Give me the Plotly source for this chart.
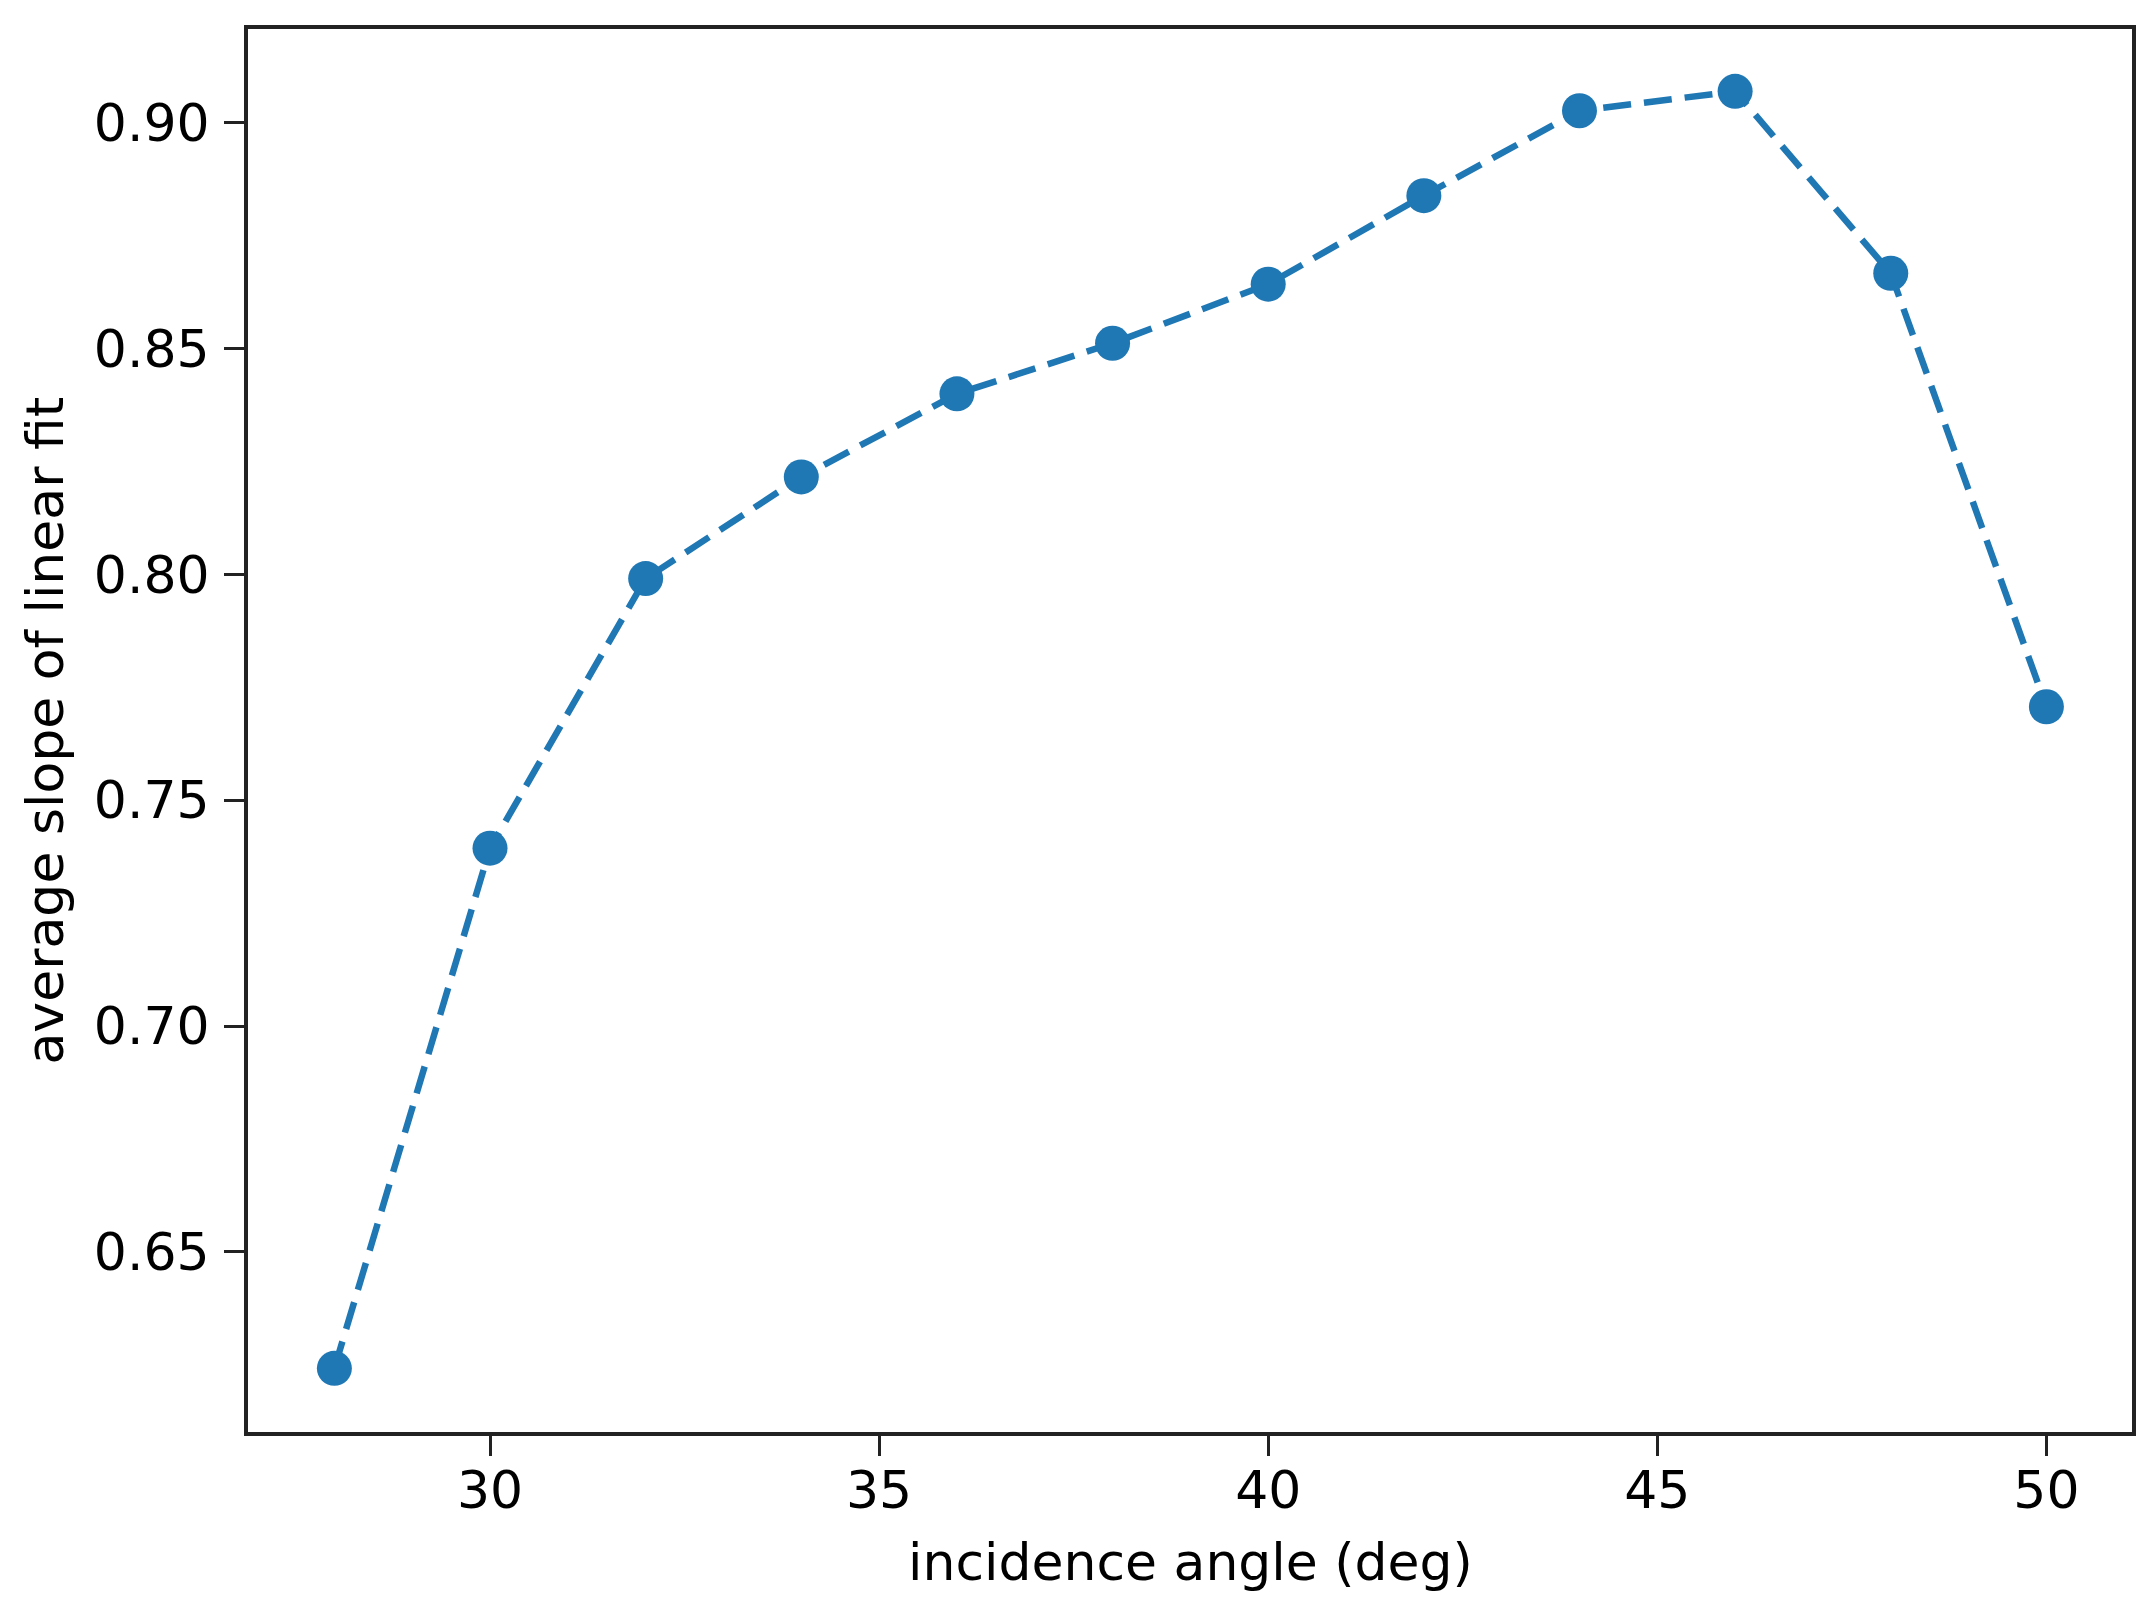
import plotly.graph_objects as go

angles = [28, 30, 32, 34, 36, 38, 40, 42, 44, 46, 48, 50]
slopes = [0.6242, 0.7394, 0.7991, 0.8216, 0.8400, 0.8512, 0.8643, 0.8839, 0.9027, 0.9070, 0.8667, 0.7707]

x_ticks = [30, 35, 40, 45, 50]
y_ticks = [0.65, 0.70, 0.75, 0.80, 0.85, 0.90]
y_tick_labels = ["0.65", "0.70", "0.75", "0.80", "0.85", "0.90"]

# page has 8px default body margin -> figure drawn 8px in from the top-left
W, H = 2143, 1597
ML, MR, MT, MB = 240, 19, 21, 173
PW, PH = W - ML - MR, H - MT - MB

FONT = "DejaVu Sans"
FS = 52
BLUE = "#1f77b4"

fig = go.Figure()
fig.add_trace(go.Scatter(
    x=angles, y=slopes, mode="lines+markers",
    line=dict(color=BLUE, width=6.5, dash="28px,13px"),
    marker=dict(color=BLUE, size=35),
    showlegend=False,
))

axis_common = dict(
    showline=True, linecolor="#222222", linewidth=4, mirror=True,
    ticks="outside", ticklen=20, tickwidth=3, tickcolor="#222222",
    showgrid=False, zeroline=False, automargin=False,
    tickfont=dict(family=FONT, size=FS, color="black"),
)

fig.update_xaxes(range=[26.89, 51.1], tickvals=x_ticks, ticklabelstandoff=-10, **axis_common)
fig.update_yaxes(range=[0.6101, 0.9208], tickvals=y_ticks, ticktext=y_tick_labels,
                 ticklabelstandoff=4, **axis_common)

fig.add_annotation(
    text="incidence angle (deg)", xref="paper", yref="paper",
    x=0.5, y=-130 / PH, xanchor="center", yanchor="middle", showarrow=False,
    font=dict(family=FONT, size=FS, color="black"),
)
fig.add_annotation(
    text="average slope of linear fit", xref="paper", yref="paper",
    x=-204 / PW, y=0.5, xanchor="center", yanchor="middle", showarrow=False,
    textangle=-90,
    font=dict(family=FONT, size=FS, color="black"),
)

fig.update_layout(
    width=W, height=H,
    margin=dict(l=ML, r=MR, t=MT, b=MB, pad=0, autoexpand=False),
    paper_bgcolor="white", plot_bgcolor="white",
)

fig.write_html("out.html")
